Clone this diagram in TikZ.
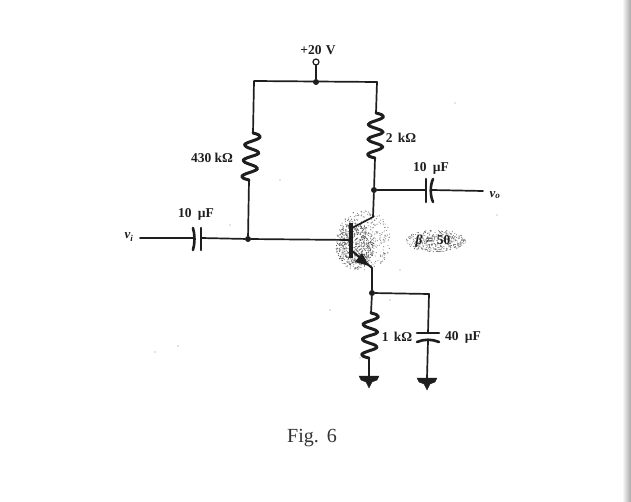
\documentclass[tikz,border=0pt]{standalone}
\usepackage{fontspec}
\setmainfont{Liberation Serif}
\usetikzlibrary{calc}
\definecolor{ink}{HTML}{1E1E1E}
\definecolor{speck}{HTML}{555555}
\tikzset{
  x=1pt,y=-1pt,
  wire/.style={draw=ink,line width=1.7pt,line cap=round,line join=round},
  res/.style={draw=ink,line width=3pt,line cap=round,line join=round},
  plate/.style={draw=ink,line width=2.6pt,line cap=round},
  junction/.style={circle,fill=ink,inner sep=0pt,minimum size=6pt},
  lab/.style={font=\bfseries\fontsize{13.5}{15}\selectfont,text=ink,inner sep=0pt},
  port/.style={font=\bfseries\itshape\fontsize{13}{14}\selectfont,text=ink,inner sep=0pt},
  gndsym/.style={fill=ink,draw=ink,line width=.4pt}
}
\newcommand{\zigres}[4]{% x1 y1 x2 y2: vertical zigzag of six half-waves
  \draw[res] (#1,#2) .. controls ($(#1,#2)!.05!(#3,#4)+(10,0)$) and ($(#1,#2)!.10!(#3,#4)+(10,0)$) .. ($(#1,#2)!.17!(#3,#4)$)
   .. controls ($(#1,#2)!.24!(#3,#4)+(-10,0)$) and ($(#1,#2)!.27!(#3,#4)+(-10,0)$) .. ($(#1,#2)!.34!(#3,#4)$)
   .. controls ($(#1,#2)!.41!(#3,#4)+(10,0)$) and ($(#1,#2)!.44!(#3,#4)+(10,0)$) .. ($(#1,#2)!.50!(#3,#4)$)
   .. controls ($(#1,#2)!.57!(#3,#4)+(-10,0)$) and ($(#1,#2)!.60!(#3,#4)+(-10,0)$) .. ($(#1,#2)!.67!(#3,#4)$)
   .. controls ($(#1,#2)!.74!(#3,#4)+(10,0)$) and ($(#1,#2)!.77!(#3,#4)+(10,0)$) .. ($(#1,#2)!.84!(#3,#4)$)
   .. controls ($(#1,#2)!.91!(#3,#4)+(-10,0)$) and ($(#1,#2)!.95!(#3,#4)+(-10,0)$) .. (#3,#4);}
\newcommand{\gnd}[2]{%
  \fill[gndsym] (#1-10,#2) -- (#1+10,#2) -- (#1+8,#2+4) -- (#1+3,#2+6) -- (#1,#2+12) -- (#1-3,#2+6) -- (#1-8,#2+4) -- cycle;}
\begin{document}
\begin{tikzpicture}
\useasboundingbox (0,0) rectangle (631,502);
\fill[white] (0,0) rectangle (631,502);
\shade[left color=white,right color=black!35] (622,0) rectangle (631,502);
% speckle
\pgfmathsetseed{42}
\foreach \i in {1,...,520}{
  \pgfmathsetmacro{\ang}{360*rnd}\pgfmathsetmacro{\rr}{sqrt(rnd)}
  \fill[speck] ({355+19*\rr*cos(\ang)},{246+23*\rr*sin(\ang)}) circle (.55pt);}
\foreach \i in {1,...,320}{
  \pgfmathsetmacro{\ang}{360*rnd}\pgfmathsetmacro{\rr}{sqrt(rnd)}
  \fill[speck!80] ({364+27*\rr*cos(\ang)},{240+30*\rr*sin(\ang)}) circle (.55pt);}
\foreach \i in {1,...,340}{
  \pgfmathsetmacro{\ang}{360*rnd}\pgfmathsetmacro{\rr}{sqrt(rnd)}
  \fill[speck!85] ({436+30*\rr*cos(\ang)},{241+11*\rr*sin(\ang)}) circle (.55pt);}
\foreach \p in {(155,352),(178,346),(330,310),(390,300),(447,335),(470,335),(230,225),(400,270),(455,103),(497,215),(360,358),(280,180)}
  \fill[black!45] \p circle (.6pt);
% nodes
\coordinate (vin) at (140,238);
\coordinate (c1a) at (194,238);
\coordinate (c1b) at (201,238);
\node[junction] (jb) at (248,239) {};
\coordinate (base) at (351,240);
\coordinate (tl) at (254,81);
\node[junction] (jt) at (316,82) {};
\coordinate (tr) at (377,82);
\node[draw=ink,line width=1.2pt,circle,fill=white,inner sep=0pt,minimum size=6pt] (vcc) at (316,62) {};
\coordinate (r1t) at (253,133);
\coordinate (r1b) at (249,180);
\coordinate (r2t) at (376,113);
\coordinate (r2b) at (375,158);
\node[junction] (jc) at (374,190) {};
\coordinate (c2a) at (426,190);
\coordinate (c2b) at (432,190);
\coordinate (vout) at (483,191);
\coordinate (cbend) at (373,217);
\coordinate (cbar) at (352,228);
\coordinate (ebar) at (351,250);
\coordinate (ebend) at (372,268);
\node[junction] (je) at (372,293) {};
\coordinate (c3r) at (429,294);
\coordinate (c3t) at (428,333);
\coordinate (c3b) at (428,341);
\coordinate (r3t) at (371,313);
\coordinate (r3b) at (369,358);
\coordinate (g1) at (369,376);
\coordinate (g2) at (427,378);
% wires
\draw[wire] (vin) -- (c1a);
\draw[wire] (c1b) -- (jb) -- (base);
\draw[wire] (jb) -- (r1b);
\draw[wire] (r1t) -- (tl) -- (tr) -- (r2t);
\draw[wire] (vcc) -- (jt);
\draw[wire] (r2b) -- (jc) -- (cbend) -- (cbar);
\draw[wire] (jc) -- (c2a);
\draw[wire] (c2b) -- (vout);
\draw[wire] (ebend) -- (je) -- (r3t);
\draw[wire] (r3b) -- (g1);
\draw[wire] (je) -- (c3r) -- (c3t);
\draw[wire] (c3b) -- (g2);
% resistors
\zigres{253}{133}{249}{180}
\zigres{376}{113}{375}{158}
\zigres{371}{313}{369}{358}
% capacitors
\draw[plate] (193,228) .. controls (195,235) and (195,243) .. (193,250);
\draw[plate] (201,228) -- (201,250);
\draw[plate] (426,179) -- (426,202);
\draw[plate] (433,179) .. controls (430,186) and (430,195) .. (433,202);
\draw[plate] (417,333) -- (439,333);
\draw[plate] (417,342) .. controls (424,339) and (432,339) .. (439,342);
% transistor
\draw[draw=ink,line width=3.2pt] (351,223) -- (351,258);
\draw[wire,line width=2pt] (ebar) -- (ebend);
\fill[ink] (369,266) -- (355,262) -- (362,253) -- cycle;
% grounds
\gnd{369}{376}
\gnd{427}{378}
% labels
\node[lab] (l20) at (318,50) {+20\hspace{1pt} V};
\node[lab] (l430) at (212,158) {430 kΩ};
\node[lab] (l2k) at (401,138) {2\hspace{2pt} kΩ};
\node[lab] (l10a) at (196,214) {10\hspace{3pt} µF};
\node[lab] (l10b) at (431,168) {10\hspace{3pt} µF};
\node[lab] (l1k) at (397,337) {1\hspace{2pt} kΩ};
\node[lab] (l40) at (463,337) {40\hspace{3pt} µF};
\node[lab] (lb) at (433,241) {\textit{β} = 50};
\node[port] (lvi) at (129,237) {v\textsubscript{i}};
\node[port] (lvo) at (495,195) {v\textsubscript{o}};
\node[font=\fontsize{20}{22}\selectfont,text=black!80,inner sep=0pt] (fig) at (312,438) {Fig.\hspace{8pt}6};
\end{tikzpicture}
\end{document}
